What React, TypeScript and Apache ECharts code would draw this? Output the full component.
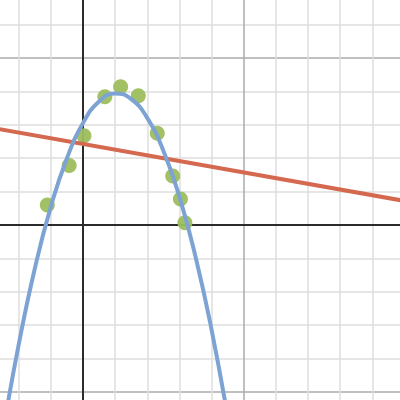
import {useEffect, useRef} from "react";
import * as echarts from "echarts";

// scatter points (minor grid = 1 unit)
const pointsX = [-1.11, -0.43, 0.03, 0.68, 1.17, 1.72, 2.31, 2.79, 3.03, 3.17];
const pointsY = [0.6, 1.78, 2.67, 3.84, 4.14, 3.87, 2.75, 1.47, 0.78, 0.07];

// blue fitted curve
const curveX = [-2.4, -2, -1.5, -1, -0.5, 0, 0.5, 1, 1.5, 2, 2.5, 3, 3.5, 4, 4.5];
const curveY = [-5.69, -3.58, -1.31, 0.55, 2.0, 3.05, 3.7, 3.94, 3.77, 3.2, 2.22, 0.84, -0.95, -3.14, -5.74];

// red straight line, its two ends
const lineX = [-3, 10];
const lineY = [2.94, 0.72];

const X_MIN = -5, X_MAX = 10, Y_MIN = -10, Y_MAX = 10;
const SX = 32.15, SY = 33.4; // px per unit
const ORIGIN = {x: 83, y: 225};

const zip = (xs: number[], ys: number[]) => xs.map((x, i) => [x, ys[i]]);

export default function App() {
    const domRef = useRef<HTMLDivElement>(null);

    useEffect(() => {
        if (!domRef.current) return;
        const chart = echarts.init(domRef.current, null, {renderer: "svg"});

        const axisCommon = {
            type: "value" as const,
            interval: 5,
            axisLine: {onZero: true, lineStyle: {color: "#2b2b2b", width: 2}},
            axisTick: {show: false},
            axisLabel: {show: false},
            splitLine: {show: true, lineStyle: {color: "#ababab", width: 1.5}},
            minorTick: {show: false, splitNumber: 5},
            minorSplitLine: {show: true, lineStyle: {color: "#dedede", width: 1.5}},
        };

        chart.setOption({
            animation: false,
            grid: {
                left: ORIGIN.x + X_MIN * SX,
                width: (X_MAX - X_MIN) * SX,
                top: ORIGIN.y - Y_MAX * SY,
                height: (Y_MAX - Y_MIN) * SY,
                containLabel: false,
                outerBoundsMode: "none",
            },
            xAxis: {...axisCommon, min: X_MIN, max: X_MAX},
            yAxis: {...axisCommon, min: Y_MIN, max: Y_MAX},
            series: [
                {
                    type: "scatter",
                    data: zip(pointsX, pointsY),
                    symbolSize: 15,
                    itemStyle: {color: "#9dbd5c", opacity: 0.95},
                    z: 2,
                },
                {
                    type: "line",
                    data: zip(lineX, lineY),
                    symbol: "none",
                    lineStyle: {color: "#d4694f", width: 4},
                    z: 3,
                },
                {
                    type: "line",
                    data: zip(curveX, curveY),
                    smooth: true,
                    symbol: "none",
                    lineStyle: {color: "#7ca3d3", width: 4},
                    z: 4,
                },
            ],
        });

        return () => chart.dispose();
    }, []);

    return (
        <div
            ref={domRef}
            style={{position: "absolute", left: 0, top: 0, width: 400, height: 400, overflow: "hidden", background: "#fff"}}
        />
    );
}
